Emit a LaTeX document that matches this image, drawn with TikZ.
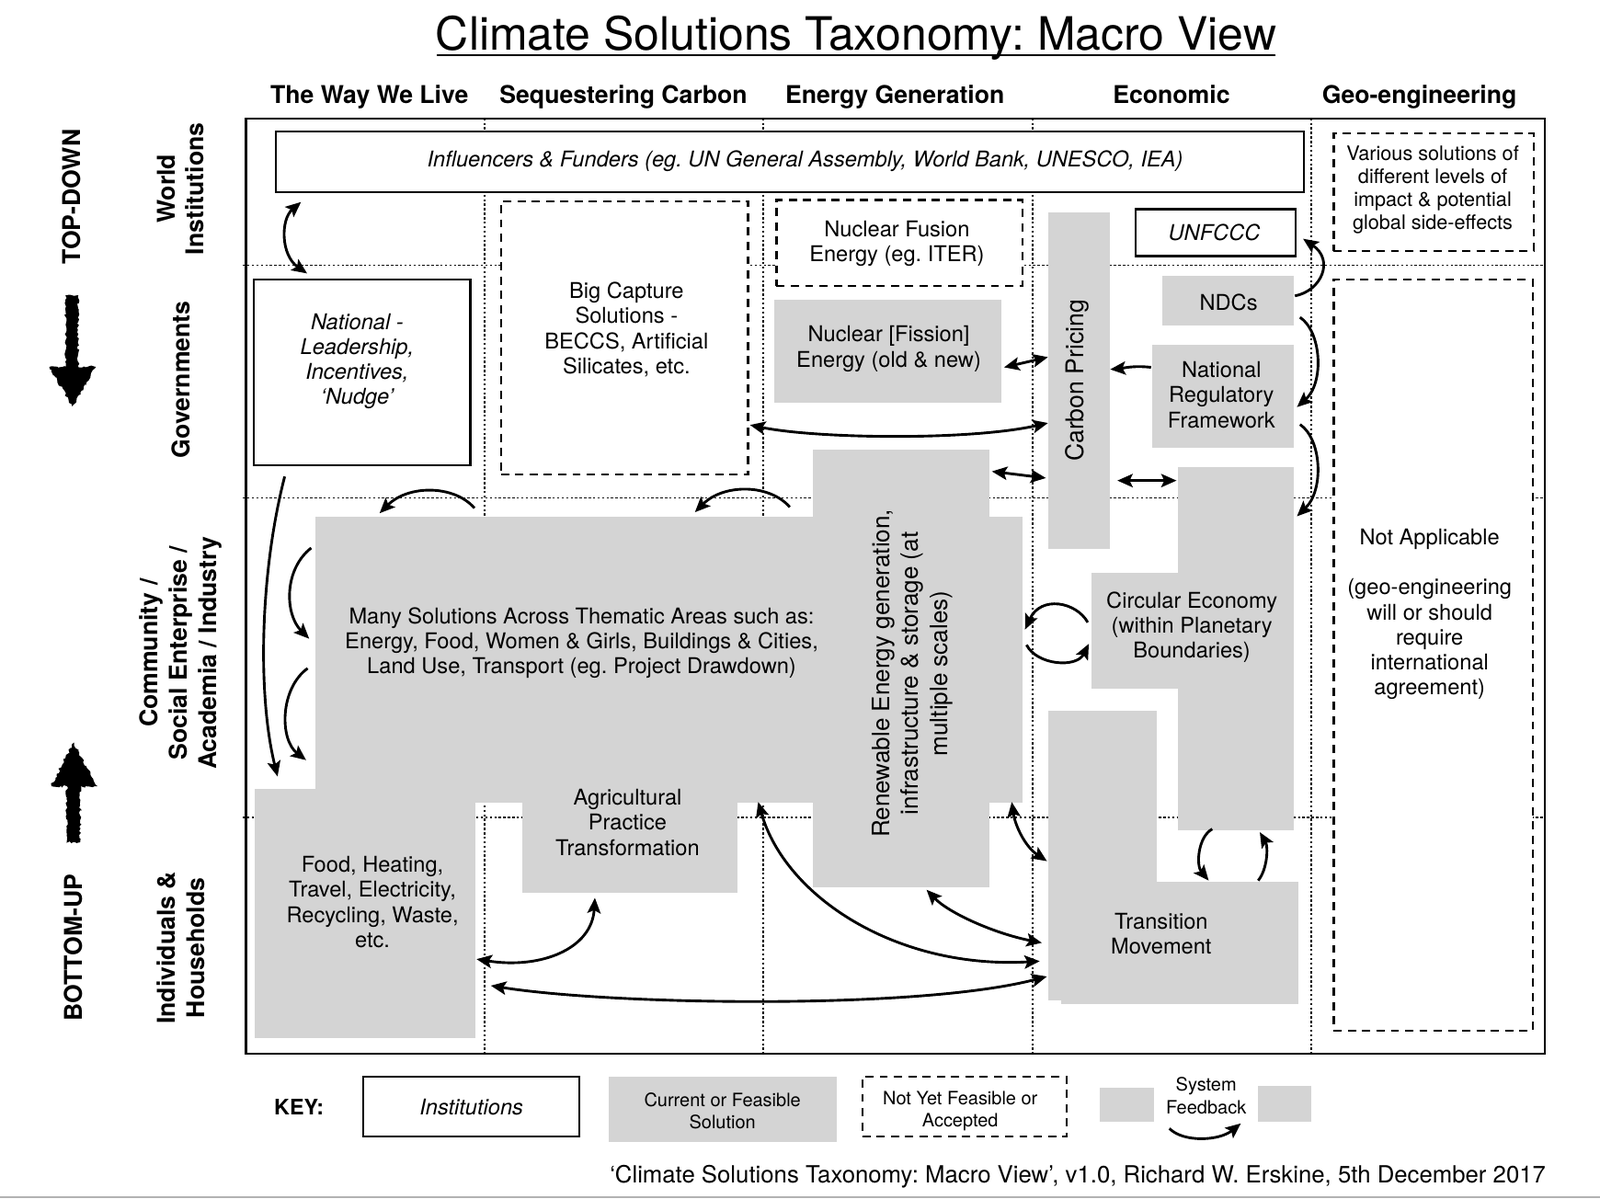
\documentclass[tikz,border=0pt]{standalone}
\usepackage{fontspec}
\setmainfont{TeX Gyre Heros}
\usetikzlibrary{arrows.meta,fit,decorations.pathmorphing}
\definecolor{boxgray}{RGB}{212,212,212}
\newcommand\fbody{\fontsize{21.3}{24.5}\selectfont}
\newcommand\fhead{\fontsize{24}{28.5}\selectfont\bfseries}
\newcommand\fkey{\fontsize{18}{22}\selectfont}
\newcommand\ftitle{\fontsize{45}{50}\selectfont}
\newcommand\fren{\fontsize{23.5}{28.5}\selectfont}
\newcommand\fvar{\fontsize{19.5}{22.7}\selectfont}
\newcommand\ffoot{\fontsize{23.2}{26}\selectfont}
\frenchspacing
\begin{document}
\frenchspacing
\begin{tikzpicture}[x=1pt,y=-1pt,
  dotline/.style={line width=1.5pt, dash pattern=on 2.2pt off 2.2pt},
  instbox/.style={draw, line width=2pt, fill=white, inner sep=0pt, outer sep=0pt},
  dashbox/.style={draw, line width=2pt, fill=white, dash pattern=on 8pt off 6pt, inner sep=0pt, outer sep=0pt},
  graybox/.style={fill=boxgray, draw=none, inner sep=0pt, outer sep=0pt},
  txt/.style={align=center, inner sep=0pt, font=\fbody},
  hdr/.style={align=center, inner sep=0pt, font=\fhead},
  keytxt/.style={align=center, inner sep=0pt, font=\fkey},
  arr/.style={line width=2.6pt, -{Stealth[length=15pt,width=13pt,inset=3pt]}},
  darr/.style={line width=2.6pt, {Stealth[length=15pt,width=13pt,inset=3pt]}-{Stealth[length=15pt,width=13pt,inset=3pt]}},
  rough/.style={fill=black, draw=black, line width=1.2pt, decorate, decoration={random steps, segment length=2pt, amplitude=1.2pt}},
]
\useasboundingbox (0,0) rectangle (1568,1175);

% ---------- grid ----------
\foreach \gx in {475,748,1012,1285} \draw[dotline] (\gx,116) -- (\gx,1033);
\foreach \gy in {260,488,801} \draw[dotline] (238,\gy) -- (1514,\gy);

% ---------- white boxes ----------
\node[instbox, fit={(270,129) (1278,188)}] (infl) {};
\node[dashbox, fit={(1307,131) (1503,246)}] (various) {};
\node[instbox, fit={(249,274) (461,456)}] (national) {};
\node[dashbox, fit={(491,197) (733,465)}] (bigcap) {};
\node[dashbox, fit={(761,196) (1002,280)}] (fusion) {};
\node[instbox, fit={(1113,205) (1270,251)}] (unfccc) {};
\node[dashbox, fit={(1307,274) (1502,1010)}] (notappl) {};

% ---------- gray boxes ----------
\node[graybox, fit={(309,506) (1002,787)}] (many) {};
\node[graybox, fit={(797,441) (970,870)}] (renew) {};
\node[graybox, fit={(512,775) (723,875)}] (agri) {};
\node[graybox, fit={(250,773) (466,1017)}] (food) {};
\node[graybox, fit={(1027,208) (1088,538)}] (carbon) {};
\node[graybox, fit={(759,294) (981,395)}] (fission) {};
\node[graybox, fit={(1139,270) (1268,319)}] (ndcs) {};
\node[graybox, fit={(1129,338) (1268,439)}] (nrf) {};
\node[graybox, fit={(1154,458) (1268,814)}] (circtall) {};
\node[graybox, fit={(1070,561) (1154,675)}] (circ) {};
\node[graybox, fit={(1027,697) (1134,980)}] (transtall) {};
\node[graybox, fit={(1040,970) (1134,984)}] (transstrip) {};
\node[graybox, fit={(1134,864) (1272,984)}] (trans) {};

% ---------- frame ----------
\node[draw, line width=2pt, inner sep=0pt, fit={(241,116) (1514,1033)}] (frame) {};

% ---------- box texts ----------
\node[txt, font=\fbody\itshape] (tinfl) at (789,158) {Influencers \& Funders (eg. UN General Assembly, World Bank, UNESCO, IEA)};
\node[txt, font=\fvar] (tvar) at (1404,186) {Various solutions of\\different levels of\\impact \& potential\\global side-effects};
\node[txt, font=\fbody\itshape] (tnat) at (350,354) {National -\\Leadership,\\Incentives,\\‘Nudge’};
\node[txt] (tbig) at (614,323) {Big Capture\\Solutions -\\BECCS, Artificial\\Silicates, etc.};
\node[txt] (tfus) at (879,239) {Nuclear Fusion\\Energy (eg. ITER)};
\node[txt] (tfis) at (871,342) {Nuclear [Fission]\\Energy (old \& new)};
\node[txt, font=\fhead\mdseries, rotate=90] (tcarb) at (1056,373) {Carbon Pricing};
\node[txt, font=\fbody\itshape] (tunf) at (1190,228) {UNFCCC};
\node[txt] (tndc) at (1204,296) {NDCs};
\node[txt] (tnrf) at (1197,387) {National\\Regulatory\\Framework};
\node[txt] (tcirc) at (1168,615) {Circular Economy\\(within Planetary\\Boundaries)};
\node[txt] (tmany) at (570,630) {Many Solutions Across Thematic Areas such as:\\Energy, Food, Women \& Girls, Buildings \& Cities,\\Land Use, Transport (eg. Project Drawdown)};
\node[txt, font=\fren, rotate=90] (tren) at (894,660) {Renewable Energy generation,\\infrastructure \& storage (at\\multiple scales)};
\node[txt] (tagri) at (615,806) {Agricultural\\Practice\\Transformation};
\node[txt] (tfood) at (365,884) {Food, Heating,\\Travel, Electricity,\\Recycling, Waste,\\etc.};
\node[txt] (ttrans) at (1138,915) {Transition\\Movement};
\node[txt] (tna) at (1401,602) {Not Applicable\\[24.5pt](geo-engineering\\will or should\\require\\international\\agreement)};

% ---------- title & headers ----------
\node[inner sep=0pt, font=\ftitle, anchor=base] (title) at (839,49) {Climate Solutions Taxonomy: Macro View};
\draw[line width=2pt] (428,54) -- (1250,54);
\node[hdr, anchor=base] (h1) at (362,101) {The Way We Live};
\node[hdr, anchor=base] (h2) at (611,101) {Sequestering Carbon};
\node[hdr, anchor=base] (h3) at (877,101) {Energy Generation};
\node[hdr, anchor=base] (h4) at (1148,101) {Economic};
\node[hdr, anchor=base] (h5) at (1391,101) {Geo-engineering};

% ---------- row labels ----------
\node[hdr, rotate=90] (r1) at (177,185) {World\\Institutions};
\node[hdr, rotate=90] (r2) at (177,372) {Governments};
\node[hdr, rotate=90] (r3) at (177,640) {Community /\\Social Enterprise /\\Academia / Industry};
\node[hdr, rotate=90] (r4) at (177,929) {Individuals \&\\Households};
\node[hdr, rotate=90] (td) at (70,193) {TOP-DOWN};
\node[hdr, rotate=90] (bu) at (72,929) {BOTTOM-UP};
\path[rough] (65,290) -- (76,290) -- (76,360) -- (93,360) -- (71,397) -- (49,360) -- (65,360) -- cycle;
\path[rough] (66,825) -- (78,825) -- (78,770) -- (94,770) -- (72,729) -- (51,770) -- (66,770) -- cycle;

% ---------- connectors ----------
\draw[darr] (295,198) .. controls (275,215) and (275,250) .. (301,268);
\draw[arr] (279,467) .. controls (255,560) and (252,680) .. (272,761);
\draw[arr] (465,498) .. controls (445,475) and (400,475) .. (372,503);
\draw[arr] (774,497) .. controls (754,474) and (709,474) .. (681,502);
\draw[arr] (305,537) .. controls (278,558) and (279,602) .. (303,626);
\draw[arr] (301.5,655) .. controls (274,675) and (274,725) .. (300,745);
\draw[darr] (984,360) -- (1027,350);
\draw[darr] (735,416.5) .. controls (800,430) and (950,432) .. (1027,414.6);
\draw[arr] (1128,360) .. controls (1110,358) and (1100,361) .. (1088,362);
\draw[darr] (972,462) -- (1025,468.5);
\draw[darr] (1095,471) -- (1153,471);
\draw[arr] (1269,290) .. controls (1295,285) and (1308,255) .. (1277,234);
\draw[arr] (1274,311) .. controls (1295,325) and (1298,375) .. (1271,399);
\draw[arr] (1274,416) .. controls (1295,430) and (1298,480) .. (1271,506);
\draw[arr] (1066,610) .. controls (1055,590) and (1020,583) .. (1004.5,617);
\draw[arr] (1006,632) .. controls (1016,652) and (1055,655) .. (1067,631);
\draw[darr] (991.5,786) .. controls (995,810) and (1005,830) .. (1026,844);
\draw[arr] (1188,812.5) .. controls (1174,820) and (1172,848) .. (1184.5,863);
\draw[arr] (1233,863) .. controls (1242,852) and (1243,830) .. (1234.6,815.6);
\draw[darr] (908,872) .. controls (930,895) and (975,915) .. (1021,924);
\draw[darr] (743,786) .. controls (770,880) and (880,950) .. (1019,942);
\draw[darr] (467,940) .. controls (530,950) and (580,930) .. (583,880);
\draw[darr] (481,966) .. controls (600,985) and (900,990) .. (1026,957);

% ---------- key ----------
\node[hdr, font=\fontsize{21}{24}\selectfont\bfseries] (key) at (293,1085) {KEY:};
\node[instbox, fit={(356,1055) (568,1114)}] (kinst) {};
\node[txt, font=\fbody\itshape] (tkinst) at (462,1085) {Institutions};
\node[graybox, fit={(597,1055) (820,1119)}] (kcur) {};
\node[keytxt] (tkcur) at (708,1089) {Current or Feasible\\Solution};
\node[dashbox, fit={(845,1055) (1045,1114)}] (knot) {};
\node[keytxt] (tknot) at (941,1089) {Not Yet Feasible or\\Accepted};
\node[graybox, fit={(1078,1066) (1131,1099)}] (kfb1) {};
\node[graybox, fit={(1233,1064) (1285,1099)}] (kfb2) {};
\node[keytxt] (tkfb) at (1182,1074) {System\\Feedback};
\draw[arr] (1146,1106) .. controls (1160,1120) and (1195,1118) .. (1216,1101);

% ---------- footer ----------
\node[txt, font=\ffoot, anchor=east] (foot) at (1515,1153) {‘Climate Solutions Taxonomy: Macro View’, v1.0, Richard W. Erskine, 5th December 2017};
\draw[gray!60, line width=1.5pt] (0,1173.5) -- (1568,1173.5);
\end{tikzpicture}
\end{document}
